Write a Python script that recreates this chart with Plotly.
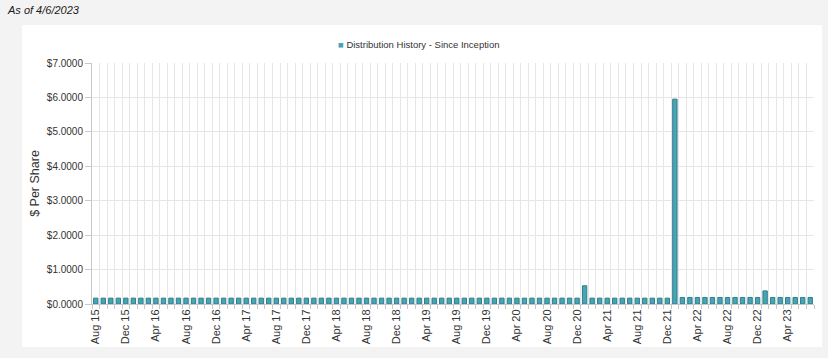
import plotly.graph_objects as go

months = [
    "Aug 15", "Sep 15", "Oct 15", "Nov 15", "Dec 15",
    "Jan 16", "Feb 16", "Mar 16", "Apr 16", "May 16", "Jun 16", "Jul 16", "Aug 16", "Sep 16", "Oct 16", "Nov 16", "Dec 16",
    "Jan 17", "Feb 17", "Mar 17", "Apr 17", "May 17", "Jun 17", "Jul 17", "Aug 17", "Sep 17", "Oct 17", "Nov 17", "Dec 17",
    "Jan 18", "Feb 18", "Mar 18", "Apr 18", "May 18", "Jun 18", "Jul 18", "Aug 18", "Sep 18", "Oct 18", "Nov 18", "Dec 18",
    "Jan 19", "Feb 19", "Mar 19", "Apr 19", "May 19", "Jun 19", "Jul 19", "Aug 19", "Sep 19", "Oct 19", "Nov 19", "Dec 19",
    "Jan 20", "Feb 20", "Mar 20", "Apr 20", "May 20", "Jun 20", "Jul 20", "Aug 20", "Sep 20", "Oct 20", "Nov 20", "Dec 20",
    "Jan 21", "Feb 21", "Mar 21", "Apr 21", "May 21", "Jun 21", "Jul 21", "Aug 21", "Sep 21", "Oct 21", "Nov 21", "Dec 21",
    "Jan 22", "Feb 22", "Mar 22", "Apr 22", "May 22", "Jun 22", "Jul 22", "Aug 22", "Sep 22", "Oct 22", "Nov 22", "Dec 22",
    "Jan 23", "Feb 23", "Mar 23", "Apr 23", "May 23", "Jun 23", "Jul 23",
]

distributions = [
    0.17, 0.17, 0.17, 0.17, 0.17,
    0.17, 0.17, 0.17, 0.17, 0.17, 0.17, 0.17, 0.17, 0.17, 0.17, 0.17, 0.17,
    0.17, 0.17, 0.17, 0.17, 0.17, 0.17, 0.17, 0.17, 0.17, 0.17, 0.17, 0.17,
    0.17, 0.17, 0.17, 0.17, 0.17, 0.17, 0.17, 0.17, 0.17, 0.17, 0.17, 0.17,
    0.17, 0.17, 0.17, 0.17, 0.17, 0.17, 0.17, 0.17, 0.17, 0.17, 0.17, 0.17,
    0.17, 0.17, 0.17, 0.17, 0.17, 0.17, 0.17, 0.17, 0.17, 0.17, 0.17, 0.17,
    0.53, 0.17, 0.17, 0.17, 0.17, 0.17, 0.17, 0.17, 0.17, 0.17, 0.17, 0.17,
    5.95, 0.19, 0.19, 0.19, 0.19, 0.19, 0.19, 0.19, 0.19, 0.19, 0.19, 0.19,
    0.38, 0.19, 0.19, 0.19, 0.19, 0.19, 0.19,
]

label_months = ["Aug 15", "Dec 15", "Apr 16", "Aug 16", "Dec 16", "Apr 17", "Aug 17", "Dec 17",
                "Apr 18", "Aug 18", "Dec 18", "Apr 19", "Aug 19", "Dec 19", "Apr 20", "Aug 20",
                "Dec 20", "Apr 21", "Aug 21", "Dec 21", "Apr 22", "Aug 22", "Dec 22", "Apr 23"]

y_ticks = [0, 1, 2, 3, 4, 5, 6, 7]
y_tick_text = ["$0.0000", "$1.0000", "$2.0000", "$3.0000", "$4.0000", "$5.0000", "$6.0000", "$7.0000"]

series_name = "Distribution History - Since Inception"
as_of = "As of 4/6/2023"

tick_text = [m if m in label_months else "" for m in months]

FONT = "Liberation Sans, Arial, sans-serif"
BAR = "#4aa3b2"
BAR_EDGE = "#2e7f8c"

fig = go.Figure()
fig.add_trace(go.Bar(
    x=months, y=distributions,
    name=series_name,
    marker=dict(color=BAR, line=dict(color=BAR_EDGE, width=1)),
    showlegend=False,
))

W, H = 828, 358
L, R, T, B = 92, 14, 63, 54
pw, ph = W - L - R, H - T - B

def px_x(x):
    return (x - L) / pw

def px_y(y):
    return (H - B - y) / ph

fig.add_shape(type="rect", xref="paper", yref="paper",
              x0=px_x(22), x1=px_x(822), y0=px_y(347), y1=px_y(25),
              fillcolor="white", line=dict(width=0), layer="below")

fig.add_annotation(text="<i>" + as_of + "</i>", xref="paper", yref="paper",
                   x=px_x(5), y=px_y(10), xanchor="left", yanchor="middle",
                   showarrow=False, font=dict(family=FONT, size=11, color="#1a1a1a"))

# legend entry (square swatch + series name)
fig.add_annotation(text="<span style='color:" + BAR + "'>■</span> " + series_name,
                   xref="paper", yref="paper",
                   x=px_x(336), y=px_y(44), xanchor="left", yanchor="middle",
                   showarrow=False, font=dict(family=FONT, size=9.5, color="#333"))

fig.update_layout(
    width=W, height=H,
    margin=dict(l=L, r=R, t=T, b=B, pad=0),
    paper_bgcolor="#f3f3f3",
    plot_bgcolor="white",
    bargap=0.42,
    showlegend=False,
    font=dict(family=FONT, size=11, color="#333"),
    xaxis=dict(
        type="category",
        tickmode="array", tickvals=months, ticktext=tick_text,
        tickangle=-90, tickson="boundaries",
        showgrid=True, gridcolor="#e6e6e6", gridwidth=1,
        ticks="outside", ticklen=4, tickcolor="#c8c8c8",
        showline=True, linecolor="#c8c8c8", linewidth=1,
        tickfont=dict(family=FONT, size=11, color="#333"),
        range=[-0.5, len(months) - 0.5],
    ),
    yaxis=dict(
        range=[0, 7], tickmode="array", tickvals=y_ticks, ticktext=y_tick_text,
        showgrid=True, gridcolor="#e6e6e6", gridwidth=1,
        ticks="outside", ticklen=6, tickcolor="#c8c8c8",
        showline=True, linecolor="#c8c8c8", linewidth=1,
        zeroline=False,
        tickfont=dict(family=FONT, size=10, color="#333"),
        title=dict(text="$ Per Share", font=dict(family=FONT, size=12.5, color="#333"), standoff=4),
    ),
)

fig.write_html("out.html", config={"displayModeBar": False},
               post_script="document.body.style.margin='0';document.body.style.background='#f3f3f3';")
